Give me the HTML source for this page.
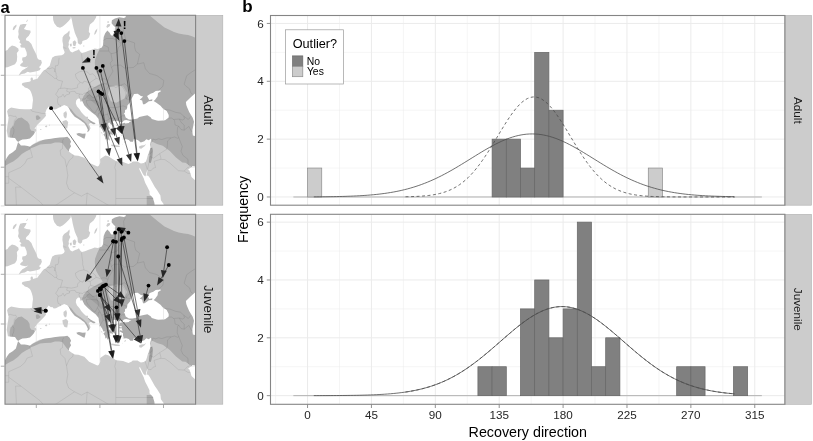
<!DOCTYPE html>
<html><head><meta charset="utf-8"><title>Figure</title>
<style>html,body{margin:0;padding:0;background:#fff}svg{display:block}</style></head>
<body><svg width="813" height="441" viewBox="0 0 813 441">
<rect width="813" height="441" fill="#fff"/>
<rect x="270.5" y="15.5" width="514.4" height="189.7" fill="#fff"/>
<line x1="270.5" x2="784.9" y1="168.05" y2="168.05" stroke="#ebebeb" stroke-width="0.5"/>
<line x1="270.5" x2="784.9" y1="110.21" y2="110.21" stroke="#ebebeb" stroke-width="0.5"/>
<line x1="270.5" x2="784.9" y1="52.37" y2="52.37" stroke="#ebebeb" stroke-width="0.5"/>
<line y1="15.5" y2="205.2" x1="275.61" x2="275.61" stroke="#ebebeb" stroke-width="0.5"/>
<line y1="15.5" y2="205.2" x1="339.49" x2="339.49" stroke="#ebebeb" stroke-width="0.5"/>
<line y1="15.5" y2="205.2" x1="403.38" x2="403.38" stroke="#ebebeb" stroke-width="0.5"/>
<line y1="15.5" y2="205.2" x1="467.27" x2="467.27" stroke="#ebebeb" stroke-width="0.5"/>
<line y1="15.5" y2="205.2" x1="531.15" x2="531.15" stroke="#ebebeb" stroke-width="0.5"/>
<line y1="15.5" y2="205.2" x1="595.04" x2="595.04" stroke="#ebebeb" stroke-width="0.5"/>
<line y1="15.5" y2="205.2" x1="658.93" x2="658.93" stroke="#ebebeb" stroke-width="0.5"/>
<line y1="15.5" y2="205.2" x1="722.81" x2="722.81" stroke="#ebebeb" stroke-width="0.5"/>
<line x1="270.5" x2="784.9" y1="196.97" y2="196.97" stroke="#ebebeb" stroke-width="1"/>
<line x1="270.5" x2="784.9" y1="139.13" y2="139.13" stroke="#ebebeb" stroke-width="1"/>
<line x1="270.5" x2="784.9" y1="81.29" y2="81.29" stroke="#ebebeb" stroke-width="1"/>
<line x1="270.5" x2="784.9" y1="23.45" y2="23.45" stroke="#ebebeb" stroke-width="1"/>
<line y1="15.5" y2="205.2" x1="307.55" x2="307.55" stroke="#ebebeb" stroke-width="1"/>
<line y1="15.5" y2="205.2" x1="371.44" x2="371.44" stroke="#ebebeb" stroke-width="1"/>
<line y1="15.5" y2="205.2" x1="435.32" x2="435.32" stroke="#ebebeb" stroke-width="1"/>
<line y1="15.5" y2="205.2" x1="499.21" x2="499.21" stroke="#ebebeb" stroke-width="1"/>
<line y1="15.5" y2="205.2" x1="563.10" x2="563.10" stroke="#ebebeb" stroke-width="1"/>
<line y1="15.5" y2="205.2" x1="626.98" x2="626.98" stroke="#ebebeb" stroke-width="1"/>
<line y1="15.5" y2="205.2" x1="690.87" x2="690.87" stroke="#ebebeb" stroke-width="1"/>
<line y1="15.5" y2="205.2" x1="754.76" x2="754.76" stroke="#ebebeb" stroke-width="1"/>
<line x1="293.35" x2="761.85" y1="196.97" y2="196.97" stroke="#b3b3b3" stroke-width="1"/>
<rect x="307.55" y="168.05" width="14.20" height="28.92" fill="#cccccc" stroke="#8c8c8c" stroke-width="0.7"/>
<rect x="492.11" y="139.13" width="14.20" height="57.84" fill="#808080" stroke="#666666" stroke-width="0.7"/>
<rect x="506.31" y="139.13" width="14.20" height="57.84" fill="#808080" stroke="#666666" stroke-width="0.7"/>
<rect x="520.50" y="168.05" width="14.20" height="28.92" fill="#808080" stroke="#666666" stroke-width="0.7"/>
<rect x="534.70" y="52.37" width="14.20" height="144.60" fill="#808080" stroke="#666666" stroke-width="0.7"/>
<rect x="548.90" y="110.21" width="14.20" height="86.76" fill="#808080" stroke="#666666" stroke-width="0.7"/>
<rect x="648.28" y="168.05" width="14.20" height="28.92" fill="#cccccc" stroke="#8c8c8c" stroke-width="0.7"/>
<polyline points="313.80,196.86 316.64,196.83 319.48,196.81 322.31,196.78 325.15,196.75 327.99,196.72 330.83,196.67 333.67,196.63 336.51,196.57 339.35,196.51 342.19,196.44 345.03,196.36 347.87,196.26 350.71,196.16 353.55,196.04 356.39,195.91 359.23,195.76 362.07,195.60 364.91,195.41 367.75,195.21 370.58,194.98 373.42,194.72 376.26,194.44 379.10,194.13 381.94,193.78 384.78,193.41 387.62,192.99 390.46,192.54 393.30,192.05 396.14,191.52 398.98,190.94 401.82,190.31 404.66,189.63 407.50,188.90 410.34,188.12 413.18,187.28 416.02,186.39 418.85,185.43 421.69,184.42 424.53,183.35 427.37,182.22 430.21,181.03 433.05,179.78 435.89,178.47 438.73,177.10 441.57,175.68 444.41,174.20 447.25,172.68 450.09,171.10 452.93,169.49 455.77,167.83 458.61,166.15 461.45,164.43 464.28,162.69 467.12,160.94 469.96,159.17 472.80,157.41 475.64,155.65 478.48,153.90 481.32,152.18 484.16,150.48 487.00,148.83 489.84,147.22 492.68,145.67 495.52,144.18 498.36,142.76 501.20,141.43 504.04,140.18 506.88,139.03 509.72,137.98 512.55,137.05 515.39,136.22 518.23,135.52 521.07,134.94 523.91,134.49 526.75,134.17 529.59,133.98 532.43,133.93 535.27,134.01 538.11,134.22 540.95,134.57 543.79,135.04 546.63,135.65 549.47,136.38 552.31,137.23 555.15,138.19 557.99,139.25 560.82,140.42 563.66,141.69 566.50,143.04 569.34,144.47 572.18,145.97 575.02,147.54 577.86,149.15 580.70,150.82 583.54,152.52 586.38,154.25 589.22,156.00 592.06,157.76 594.90,159.53 597.74,161.29 600.58,163.04 603.42,164.78 606.25,166.49 609.09,168.17 611.93,169.82 614.77,171.42 617.61,172.99 620.45,174.50 623.29,175.97 626.13,177.38 628.97,178.73 631.81,180.03 634.65,181.27 637.49,182.45 640.33,183.57 643.17,184.63 646.01,185.63 648.85,186.57 651.69,187.45 654.52,188.28 657.36,189.05 660.20,189.77 663.04,190.44 665.88,191.06 668.72,191.63 671.56,192.15 674.40,192.64 677.24,193.08 680.08,193.49 682.92,193.86 685.76,194.19 688.60,194.50 691.44,194.77 694.28,195.02 697.12,195.25 699.96,195.45 702.79,195.63 705.63,195.79 708.47,195.94 711.31,196.07 714.15,196.18 716.99,196.28 719.83,196.37 722.67,196.45 725.51,196.52 728.35,196.58 731.19,196.64 734.03,196.68" fill="none" stroke="#4d4d4d" stroke-width="0.8"/>
<polyline points="405.51,196.78 408.35,196.72 411.19,196.64 414.03,196.54 416.87,196.41 419.71,196.26 422.55,196.06 425.39,195.82 428.22,195.52 431.06,195.16 433.90,194.71 436.74,194.18 439.58,193.54 442.42,192.78 445.26,191.89 448.10,190.84 450.94,189.62 453.78,188.21 456.62,186.59 459.46,184.75 462.30,182.67 465.14,180.34 467.98,177.75 470.82,174.88 473.65,171.75 476.49,168.34 479.33,164.67 482.17,160.76 485.01,156.62 487.85,152.27 490.69,147.76 493.53,143.13 496.37,138.41 499.21,133.67 502.05,128.97 504.89,124.35 507.73,119.90 510.57,115.67 513.41,111.74 516.25,108.15 519.09,104.98 521.92,102.27 524.76,100.08 527.60,98.44 530.44,97.38 533.28,96.93 536.12,97.08 538.96,97.84 541.80,99.19 544.64,101.11 547.48,103.56 550.32,106.51 553.16,109.90 556.00,113.67 558.84,117.76 561.68,122.10 564.52,126.64 567.36,131.31 570.19,136.04 573.03,140.77 575.87,145.46 578.71,150.03 581.55,154.47 584.39,158.71 587.23,162.75 590.07,166.54 592.91,170.08 595.75,173.35 598.59,176.35 601.43,179.08 604.27,181.54 607.11,183.74 609.95,185.70 612.79,187.43 615.62,188.94 618.46,190.25 621.30,191.38 624.14,192.35 626.98,193.18 629.82,193.88 632.66,194.46 635.50,194.95 638.34,195.35 641.18,195.68 644.02,195.95 646.86,196.16 649.70,196.34 652.54,196.48 655.38,196.59 658.22,196.68 661.06,196.75 663.89,196.80 666.73,196.84 669.57,196.87 672.41,196.90 675.25,196.92 678.09,196.93 680.93,196.94 683.77,196.95 686.61,196.96 689.45,196.96 692.29,196.96 695.13,196.96 697.97,196.97 700.81,196.97 703.65,196.97 706.49,196.97 709.33,196.97 712.16,196.97 715.00,196.97 717.84,196.97 720.68,196.97 723.52,196.97 726.36,196.97 729.20,196.97 732.04,196.97 734.88,196.97" fill="none" stroke="#4d4d4d" stroke-width="0.8" stroke-dasharray="3 2.5"/>
<rect x="784.9" y="15.5" width="26.600000000000023" height="189.7" fill="#cccccc" stroke="#b0b0b0" stroke-width="0.6"/>
<rect x="270.5" y="15.5" width="514.4" height="189.7" fill="none" stroke="#858585" stroke-width="1.1"/>
<text transform="translate(794.00,110.35) rotate(90)" text-anchor="middle" font-family="Liberation Sans, Arial, Helvetica, sans-serif" font-size="11.7" fill="#1a1a1a">Adult</text>
<line x1="266.8" x2="270.5" y1="196.97" y2="196.97" stroke="#858585" stroke-width="0.9"/>
<text x="263.70" y="201.17" text-anchor="end" font-family="Liberation Sans, Arial, Helvetica, sans-serif" font-size="11.7" fill="#262626">0</text>
<line x1="266.8" x2="270.5" y1="139.13" y2="139.13" stroke="#858585" stroke-width="0.9"/>
<text x="263.70" y="143.33" text-anchor="end" font-family="Liberation Sans, Arial, Helvetica, sans-serif" font-size="11.7" fill="#262626">2</text>
<line x1="266.8" x2="270.5" y1="81.29" y2="81.29" stroke="#858585" stroke-width="0.9"/>
<text x="263.70" y="85.49" text-anchor="end" font-family="Liberation Sans, Arial, Helvetica, sans-serif" font-size="11.7" fill="#262626">4</text>
<line x1="266.8" x2="270.5" y1="23.45" y2="23.45" stroke="#858585" stroke-width="0.9"/>
<text x="263.70" y="27.65" text-anchor="end" font-family="Liberation Sans, Arial, Helvetica, sans-serif" font-size="11.7" fill="#262626">6</text>
<rect x="270.5" y="214.3" width="514.4" height="190.0" fill="#fff"/>
<line x1="270.5" x2="784.9" y1="366.73" y2="366.73" stroke="#ebebeb" stroke-width="0.5"/>
<line x1="270.5" x2="784.9" y1="308.89" y2="308.89" stroke="#ebebeb" stroke-width="0.5"/>
<line x1="270.5" x2="784.9" y1="251.05" y2="251.05" stroke="#ebebeb" stroke-width="0.5"/>
<line y1="214.3" y2="404.3" x1="275.61" x2="275.61" stroke="#ebebeb" stroke-width="0.5"/>
<line y1="214.3" y2="404.3" x1="339.49" x2="339.49" stroke="#ebebeb" stroke-width="0.5"/>
<line y1="214.3" y2="404.3" x1="403.38" x2="403.38" stroke="#ebebeb" stroke-width="0.5"/>
<line y1="214.3" y2="404.3" x1="467.27" x2="467.27" stroke="#ebebeb" stroke-width="0.5"/>
<line y1="214.3" y2="404.3" x1="531.15" x2="531.15" stroke="#ebebeb" stroke-width="0.5"/>
<line y1="214.3" y2="404.3" x1="595.04" x2="595.04" stroke="#ebebeb" stroke-width="0.5"/>
<line y1="214.3" y2="404.3" x1="658.93" x2="658.93" stroke="#ebebeb" stroke-width="0.5"/>
<line y1="214.3" y2="404.3" x1="722.81" x2="722.81" stroke="#ebebeb" stroke-width="0.5"/>
<line x1="270.5" x2="784.9" y1="395.65" y2="395.65" stroke="#ebebeb" stroke-width="1"/>
<line x1="270.5" x2="784.9" y1="337.81" y2="337.81" stroke="#ebebeb" stroke-width="1"/>
<line x1="270.5" x2="784.9" y1="279.97" y2="279.97" stroke="#ebebeb" stroke-width="1"/>
<line x1="270.5" x2="784.9" y1="222.13" y2="222.13" stroke="#ebebeb" stroke-width="1"/>
<line y1="214.3" y2="404.3" x1="307.55" x2="307.55" stroke="#ebebeb" stroke-width="1"/>
<line y1="214.3" y2="404.3" x1="371.44" x2="371.44" stroke="#ebebeb" stroke-width="1"/>
<line y1="214.3" y2="404.3" x1="435.32" x2="435.32" stroke="#ebebeb" stroke-width="1"/>
<line y1="214.3" y2="404.3" x1="499.21" x2="499.21" stroke="#ebebeb" stroke-width="1"/>
<line y1="214.3" y2="404.3" x1="563.10" x2="563.10" stroke="#ebebeb" stroke-width="1"/>
<line y1="214.3" y2="404.3" x1="626.98" x2="626.98" stroke="#ebebeb" stroke-width="1"/>
<line y1="214.3" y2="404.3" x1="690.87" x2="690.87" stroke="#ebebeb" stroke-width="1"/>
<line y1="214.3" y2="404.3" x1="754.76" x2="754.76" stroke="#ebebeb" stroke-width="1"/>
<line x1="293.35" x2="761.85" y1="395.65" y2="395.65" stroke="#b3b3b3" stroke-width="1"/>
<rect x="477.91" y="366.73" width="14.20" height="28.92" fill="#808080" stroke="#666666" stroke-width="0.7"/>
<rect x="492.11" y="366.73" width="14.20" height="28.92" fill="#808080" stroke="#666666" stroke-width="0.7"/>
<rect x="520.50" y="308.89" width="14.20" height="86.76" fill="#808080" stroke="#666666" stroke-width="0.7"/>
<rect x="534.70" y="279.97" width="14.20" height="115.68" fill="#808080" stroke="#666666" stroke-width="0.7"/>
<rect x="548.90" y="337.81" width="14.20" height="57.84" fill="#808080" stroke="#666666" stroke-width="0.7"/>
<rect x="563.10" y="308.89" width="14.20" height="86.76" fill="#808080" stroke="#666666" stroke-width="0.7"/>
<rect x="577.29" y="222.13" width="14.20" height="173.52" fill="#808080" stroke="#666666" stroke-width="0.7"/>
<rect x="591.49" y="366.73" width="14.20" height="28.92" fill="#808080" stroke="#666666" stroke-width="0.7"/>
<rect x="605.69" y="337.81" width="14.20" height="57.84" fill="#808080" stroke="#666666" stroke-width="0.7"/>
<rect x="676.67" y="366.73" width="14.20" height="28.92" fill="#808080" stroke="#666666" stroke-width="0.7"/>
<rect x="690.87" y="366.73" width="14.20" height="28.92" fill="#808080" stroke="#666666" stroke-width="0.7"/>
<rect x="733.46" y="366.73" width="14.20" height="28.92" fill="#808080" stroke="#666666" stroke-width="0.7"/>
<polyline points="313.80,395.62 316.64,395.62 319.48,395.61 322.31,395.60 325.15,395.59 327.99,395.58 330.83,395.57 333.67,395.55 336.51,395.54 339.35,395.52 342.19,395.49 345.03,395.46 347.87,395.43 350.71,395.39 353.55,395.35 356.39,395.30 359.23,395.24 362.07,395.18 364.91,395.10 367.75,395.02 370.58,394.92 373.42,394.81 376.26,394.68 379.10,394.54 381.94,394.38 384.78,394.20 387.62,393.99 390.46,393.77 393.30,393.51 396.14,393.23 398.98,392.91 401.82,392.56 404.66,392.18 407.50,391.75 410.34,391.28 413.18,390.76 416.02,390.19 418.85,389.57 421.69,388.90 424.53,388.16 427.37,387.36 430.21,386.50 433.05,385.57 435.89,384.56 438.73,383.48 441.57,382.33 444.41,381.10 447.25,379.78 450.09,378.38 452.93,376.90 455.77,375.34 458.61,373.69 461.45,371.96 464.28,370.15 467.12,368.25 469.96,366.28 472.80,364.23 475.64,362.11 478.48,359.92 481.32,357.67 484.16,355.37 487.00,353.01 489.84,350.61 492.68,348.18 495.52,345.71 498.36,343.24 501.20,340.75 504.04,338.28 506.88,335.81 509.72,333.37 512.55,330.97 515.39,328.62 518.23,326.33 521.07,324.11 523.91,321.97 526.75,319.94 529.59,318.01 532.43,316.20 535.27,314.52 538.11,312.98 540.95,311.59 543.79,310.35 546.63,309.28 549.47,308.38 552.31,307.66 555.15,307.12 557.99,306.76 560.82,306.59 563.66,306.61 566.50,306.82 569.34,307.21 572.18,307.79 575.02,308.55 577.86,309.48 580.70,310.58 583.54,311.85 586.38,313.27 589.22,314.84 592.06,316.55 594.90,318.39 597.74,320.34 600.58,322.39 603.42,324.54 606.25,326.78 609.09,329.08 611.93,331.45 614.77,333.86 617.61,336.30 620.45,338.77 623.29,341.25 626.13,343.73 628.97,346.21 631.81,348.66 634.65,351.09 637.49,353.48 640.33,355.83 643.17,358.13 646.01,360.37 648.85,362.54 651.69,364.65 654.52,366.68 657.36,368.64 660.20,370.52 663.04,372.32 665.88,374.03 668.72,375.66 671.56,377.21 674.40,378.67 677.24,380.05 680.08,381.35 682.92,382.57 685.76,383.71 688.60,384.77 691.44,385.76 694.28,386.68 697.12,387.53 699.96,388.31 702.79,389.04 705.63,389.70 708.47,390.31 711.31,390.87 714.15,391.37 716.99,391.84 719.83,392.26 722.67,392.64 725.51,392.98 728.35,393.29 731.19,393.56 734.03,393.81" fill="none" stroke="#4d4d4d" stroke-width="0.8"/>
<polyline points="405.51,392.05 408.35,391.61 411.19,391.13 414.03,390.59 416.87,390.01 419.71,389.38 422.55,388.68 425.39,387.93 428.22,387.11 431.06,386.23 433.90,385.27 436.74,384.25 439.58,383.15 442.42,381.97 445.26,380.71 448.10,379.37 450.94,377.95 453.78,376.44 456.62,374.86 459.46,373.18 462.30,371.43 465.14,369.59 467.98,367.67 470.82,365.67 473.65,363.60 476.49,361.46 479.33,359.25 482.17,356.99 485.01,354.66 487.85,352.29 490.69,349.88 493.53,347.44 496.37,344.97 499.21,342.49 502.05,340.01 504.89,337.53 507.73,335.08 510.57,332.65 513.41,330.26 516.25,327.92 519.09,325.65 521.92,323.46 524.76,321.35 527.60,319.35 530.44,317.45 533.28,315.68 536.12,314.04 538.96,312.54 541.80,311.20 544.64,310.01 547.48,308.99 550.32,308.15 553.16,307.48 556.00,306.99 558.84,306.69 561.68,306.58 564.52,306.65 567.36,306.92 570.19,307.36 573.03,308.00 575.87,308.81 578.71,309.79 581.55,310.95 584.39,312.26 587.23,313.73 590.07,315.34 592.91,317.09 595.75,318.96 598.59,320.94 601.43,323.03 604.27,325.21 607.11,327.46 609.95,329.79 612.79,332.16 615.62,334.59 618.46,337.04 621.30,339.51 624.14,342.00 626.98,344.48 629.82,346.95 632.66,349.40 635.50,351.81 638.34,354.19 641.18,356.53 644.02,358.81 646.86,361.03 649.70,363.18 652.54,365.27 655.38,367.28 658.22,369.21 661.06,371.07 663.89,372.84 666.73,374.53 669.57,376.13 672.41,377.66 675.25,379.09 678.09,380.45 680.93,381.72 683.77,382.92 686.61,384.03 689.45,385.07 692.29,386.04 695.13,386.94 697.97,387.77 700.81,388.54 703.65,389.24 706.49,389.89 709.33,390.48 712.16,391.02 715.00,391.52 717.84,391.97 720.68,392.37 723.52,392.74 726.36,393.07 729.20,393.37 732.04,393.64 734.88,393.88" fill="none" stroke="#4d4d4d" stroke-width="0.8" stroke-dasharray="3 2.5"/>
<rect x="784.9" y="214.3" width="26.600000000000023" height="190.0" fill="#cccccc" stroke="#b0b0b0" stroke-width="0.6"/>
<rect x="270.5" y="214.3" width="514.4" height="190.0" fill="none" stroke="#858585" stroke-width="1.1"/>
<text transform="translate(794.00,309.30) rotate(90)" text-anchor="middle" font-family="Liberation Sans, Arial, Helvetica, sans-serif" font-size="11.7" fill="#1a1a1a">Juvenile</text>
<line x1="266.8" x2="270.5" y1="395.65" y2="395.65" stroke="#858585" stroke-width="0.9"/>
<text x="263.70" y="399.85" text-anchor="end" font-family="Liberation Sans, Arial, Helvetica, sans-serif" font-size="11.7" fill="#262626">0</text>
<line x1="266.8" x2="270.5" y1="337.81" y2="337.81" stroke="#858585" stroke-width="0.9"/>
<text x="263.70" y="342.01" text-anchor="end" font-family="Liberation Sans, Arial, Helvetica, sans-serif" font-size="11.7" fill="#262626">2</text>
<line x1="266.8" x2="270.5" y1="279.97" y2="279.97" stroke="#858585" stroke-width="0.9"/>
<text x="263.70" y="284.17" text-anchor="end" font-family="Liberation Sans, Arial, Helvetica, sans-serif" font-size="11.7" fill="#262626">4</text>
<line x1="266.8" x2="270.5" y1="222.13" y2="222.13" stroke="#858585" stroke-width="0.9"/>
<text x="263.70" y="226.33" text-anchor="end" font-family="Liberation Sans, Arial, Helvetica, sans-serif" font-size="11.7" fill="#262626">6</text>
<line y1="404.3" y2="408.0" x1="307.55" x2="307.55" stroke="#858585" stroke-width="0.9"/>
<text x="307.55" y="419.3" text-anchor="middle" font-family="Liberation Sans, Arial, Helvetica, sans-serif" font-size="11.7" fill="#262626">0</text>
<line y1="404.3" y2="408.0" x1="371.44" x2="371.44" stroke="#858585" stroke-width="0.9"/>
<text x="371.44" y="419.3" text-anchor="middle" font-family="Liberation Sans, Arial, Helvetica, sans-serif" font-size="11.7" fill="#262626">45</text>
<line y1="404.3" y2="408.0" x1="435.32" x2="435.32" stroke="#858585" stroke-width="0.9"/>
<text x="435.32" y="419.3" text-anchor="middle" font-family="Liberation Sans, Arial, Helvetica, sans-serif" font-size="11.7" fill="#262626">90</text>
<line y1="404.3" y2="408.0" x1="499.21" x2="499.21" stroke="#858585" stroke-width="0.9"/>
<text x="499.21" y="419.3" text-anchor="middle" font-family="Liberation Sans, Arial, Helvetica, sans-serif" font-size="11.7" fill="#262626">135</text>
<line y1="404.3" y2="408.0" x1="563.10" x2="563.10" stroke="#858585" stroke-width="0.9"/>
<text x="563.10" y="419.3" text-anchor="middle" font-family="Liberation Sans, Arial, Helvetica, sans-serif" font-size="11.7" fill="#262626">180</text>
<line y1="404.3" y2="408.0" x1="626.98" x2="626.98" stroke="#858585" stroke-width="0.9"/>
<text x="626.98" y="419.3" text-anchor="middle" font-family="Liberation Sans, Arial, Helvetica, sans-serif" font-size="11.7" fill="#262626">225</text>
<line y1="404.3" y2="408.0" x1="690.87" x2="690.87" stroke="#858585" stroke-width="0.9"/>
<text x="690.87" y="419.3" text-anchor="middle" font-family="Liberation Sans, Arial, Helvetica, sans-serif" font-size="11.7" fill="#262626">270</text>
<line y1="404.3" y2="408.0" x1="754.76" x2="754.76" stroke="#858585" stroke-width="0.9"/>
<text x="754.76" y="419.3" text-anchor="middle" font-family="Liberation Sans, Arial, Helvetica, sans-serif" font-size="11.7" fill="#262626">315</text>
<text x="527.8" y="437" text-anchor="middle" font-family="Liberation Sans, Arial, Helvetica, sans-serif" font-size="14.3" fill="#000">Recovery direction</text>
<text transform="translate(247.8,209.4) rotate(-90)" text-anchor="middle" font-family="Liberation Sans, Arial, Helvetica, sans-serif" font-size="14.2" fill="#000">Frequency</text>
<rect x="285.4" y="29.8" width="58.2" height="54.2" fill="#fff" stroke="#9a9a9a" stroke-width="0.7"/>
<text x="292.7" y="47.6" font-family="Liberation Sans, Arial, Helvetica, sans-serif" font-size="12.7" fill="#000">Outlier?</text>
<rect x="292.6" y="55.9" width="10.2" height="10.4" fill="#808080" stroke="#666" stroke-width="0.7"/>
<rect x="292.6" y="66.3" width="10.2" height="10.4" fill="#cccccc" stroke="#8c8c8c" stroke-width="0.7"/>
<text x="306.7" y="64.8" font-family="Liberation Sans, Arial, Helvetica, sans-serif" font-size="10.4" fill="#000">No</text>
<text x="306.9" y="75.2" font-family="Liberation Sans, Arial, Helvetica, sans-serif" font-size="10.4" fill="#000">Yes</text>
<text x="0.5" y="12.5" font-family="Liberation Sans, Arial, Helvetica, sans-serif" font-size="16.6" font-weight="bold" fill="#000">a</text>
<text x="242.3" y="12.3" font-family="Liberation Sans, Arial, Helvetica, sans-serif" font-size="17" font-weight="bold" fill="#000">b</text>
<defs><clipPath id="mapclip"><rect x="5.0" y="15.3" width="190.6" height="189.89999999999998"/></clipPath><g id="basemap" clip-path="url(#mapclip)"><rect x="5.0" y="15.3" width="190.6" height="189.89999999999998" fill="#cccccc"/>
<path d="M104.0,14.0 L148.0,14.0 L151.5,17.0 L157.5,22.0 L164.5,27.5 L170.4,30.2 L174.0,31.9 L178.6,33.4 L184.0,34.5 L188.1,35.1 L192.0,36.3 L197.0,38.4 L197.0,166.0 L192.0,167.3 L185.4,162.8 L182.3,162.4 L176.0,157.4 L169.8,151.0 L162.7,145.8 L157.0,144.0 L151.3,141.2 L149.0,150.0 L125.0,152.0 L100.0,150.0 L96.0,135.0 L93.0,125.0 L84.0,110.0 L80.0,104.0 L82.0,100.0 L83.6,95.9 L86.3,92.5 L90.4,89.5 L97.2,85.6 L102.7,82.7 L99.3,77.2 L96.2,72.0 L95.2,68.0 L94.8,63.0 L95.0,60.0 L97.2,54.0 L99.4,49.5 L99.0,44.0 L94.0,30.0Z" fill="#ababab"/>
<path d="M9.7,137.5 L9.7,133.0 L10.5,128.4 L13.8,125.4 L15.0,120.9 L18.0,118.3 L21.7,117.6 L24.7,119.8 L27.7,121.7 L29.5,124.7 L29.9,128.4 L31.4,130.7 L33.7,131.0 L35.0,133.0 L33.0,137.0 L30.0,139.5 L18.0,143.0 L12.0,139.0Z" fill="#ababab"/>
<path d="M35.9,115.7 L38.1,115.3 L40.8,118.0 L38.9,119.4 L36.6,120.2 L35.9,118.0Z" fill="#ababab"/>
<path d="M4.0,166.0 L4.0,158.0 L18.0,141.0 L30.0,146.0 L45.0,139.0 L60.0,137.0 L68.0,136.0 L72.0,140.0 L72.0,147.0 L70.0,152.0 L68.1,150.7 L66.2,148.4 L64.0,145.4 L62.5,143.2 L59.5,142.4 L55.0,142.4 L50.9,143.7 L44.9,144.1 L40.0,144.5 L36.0,146.2 L33.0,147.4 L30.8,148.3 L29.9,149.5 L26.3,151.3 L21.8,154.0 L18.1,157.7 L13.6,161.3 L9.1,163.6 L5.0,166.0Z" fill="#ababab"/>
<path d="M146.7,196.1 L154.9,196.1 L154.9,206.0 L146.7,206.0Z" fill="#ababab"/>
<path d="M68.5,107.0 L71.5,109.5 L74.0,113.0 L77.0,116.0 L80.5,118.3 L83.5,120.5 L86.5,123.5 L88.5,127.0 L89.5,130.0 L87.0,133.0 L86.0,128.0 L84.0,124.0 L80.0,121.5 L76.5,119.0 L73.5,116.5 L70.5,112.5 L68.5,109.0Z" fill="#ababab"/>
<path d="M88.0,116.0 L91.0,119.0 L94.5,122.0 L96.0,124.5 L93.0,125.0 L90.5,122.5 L88.0,119.5Z" fill="#ababab"/>
<path d="M109.5,87.0 L116.0,85.6 L123.0,86.3 L127.1,93.1 L124.4,98.6 L116.3,102.7 L110.8,101.3 L108.1,94.5Z" fill="#c8c8c8"/>
<path d="M86.5,95.5 L90.0,94.5 L96.0,99.0 L101.0,104.0 L104.0,109.0 L101.0,110.0 L97.0,105.5 L91.0,100.5 L87.0,98.5Z" fill="#9e9e9e"/>
<path d="M149.3,148.5 L152.3,147.5 L152.8,152.0 L152.2,158.0 L150.8,163.0 L149.0,162.5 L149.6,155.0Z" fill="#9e9e9e"/>
<path d="M5.0,15.3 L52.9,15.3 L53.2,20.0 L54.3,23.3 L57.0,26.7 L60.0,27.8 L63.0,26.3 L65.9,23.7 L68.9,20.7 L70.6,18.5 L70.8,16.2 L71.9,20.0 L72.7,24.5 L73.8,29.0 L74.9,33.1 L76.4,36.4 L77.5,38.7 L77.9,43.2 L80.2,44.7 L82.0,43.5 L82.4,40.9 L86.9,39.4 L89.1,37.2 L90.2,33.4 L88.8,32.0 L89.1,27.5 L89.9,24.5 L93.6,21.5 L95.9,17.7 L96.6,15.3 L126.1,15.3 L125.5,17.2 L123.9,18.0 L119.4,17.2 L114.9,18.4 L111.9,20.2 L111.6,23.2 L113.4,25.5 L115.3,27.3 L115.2,30.5 L113.6,33.5 L112.6,35.8 L111.0,35.2 L109.6,32.8 L107.4,30.6 L105.2,33.2 L103.7,37.0 L103.3,41.5 L103.0,45.2 L101.8,47.4 L100.0,48.2 L97.7,48.9 L94.7,48.6 L91.7,49.7 L88.6,50.7 L84.9,52.2 L81.9,53.0 L80.4,51.8 L78.9,49.2 L77.4,50.3 L75.2,51.1 L72.2,52.6 L70.2,51.2 L68.2,47.0 L68.9,44.7 L68.6,42.4 L69.3,40.2 L70.4,37.9 L69.1,35.7 L69.7,32.0 L69.3,30.5 L67.4,32.7 L64.1,34.9 L62.6,37.2 L62.4,40.9 L63.0,43.9 L63.2,45.5 L62.8,47.0 L63.2,48.5 L64.7,52.2 L63.9,54.1 L61.7,55.2 L58.7,55.6 L55.0,56.0 L52.3,57.4 L51.2,60.4 L49.7,65.7 L48.0,67.3 L45.6,69.4 L43.6,70.6 L41.9,72.4 L41.1,73.7 L38.9,76.5 L37.4,78.7 L34.5,79.6 L33.0,80.0 L32.7,77.7 L31.2,77.5 L30.5,78.7 L30.8,81.0 L29.3,81.8 L26.0,82.2 L22.4,83.1 L21.8,84.9 L23.4,86.0 L24.9,87.4 L27.5,88.2 L29.9,89.9 L31.0,92.0 L31.8,94.3 L32.6,97.0 L33.0,99.9 L32.5,103.7 L32.2,107.5 L31.8,109.0 L29.9,109.3 L24.7,109.3 L19.4,109.0 L15.0,108.2 L11.2,107.5 L8.2,109.3 L7.1,111.2 L7.9,115.0 L8.6,117.2 L8.2,120.9 L7.5,124.7 L7.1,128.4 L6.7,130.7 L7.1,132.5 L7.9,137.3 L11.2,137.7 L15.0,138.1 L16.8,140.7 L18.0,141.8 L18.0,142.6 L17.2,145.0 L15.9,149.5 L12.7,152.2 L9.1,154.5 L6.8,157.7 L5.4,160.4 L5.0,161.0Z M18.3,141.8 L19.8,140.7 L22.4,139.6 L26.2,139.2 L29.9,138.5 L32.2,136.2 L33.7,134.4 L35.2,132.1 L36.6,130.6 L35.9,128.7 L34.4,128.4 L35.9,126.9 L37.4,124.7 L40.4,121.7 L44.1,117.9 L46.0,115.7 L45.3,113.1 L46.4,109.7 L48.6,106.4 L50.9,108.2 L52.4,107.9 L53.7,109.6 L56.0,109.2 L58.2,108.1 L61.2,106.6 L64.2,105.1 L67.2,106.2 L69.1,108.5 L70.2,111.1 L72.4,114.1 L74.7,116.7 L77.7,118.6 L80.7,120.4 L82.9,122.3 L84.2,123.0 L86.4,126.4 L87.9,129.7 L87.2,132.3 L89.0,131.2 L90.5,128.2 L89.8,126.0 L88.7,124.1 L90.9,123.0 L93.9,124.5 L95.4,123.7 L95.2,123.0 L93.4,122.3 L90.4,120.4 L87.8,118.6 L88.1,116.7 L85.9,116.7 L83.7,114.8 L81.4,112.2 L79.5,109.2 L76.9,106.2 L75.8,103.2 L76.2,100.6 L78.0,98.4 L79.9,98.7 L80.3,101.7 L82.2,101.0 L84.4,105.5 L88.1,109.2 L91.9,112.6 L95.6,115.2 L98.6,118.9 L99.0,122.7 L99.7,126.4 L99.9,126.6 L100.5,127.3 L102.3,129.7 L103.4,132.4 L105.5,132.6 L103.4,134.4 L105.1,137.0 L105.3,139.2 L106.1,139.4 L106.6,138.3 L107.7,140.9 L108.2,139.3 L109.9,140.7 L109.1,137.0 L108.6,135.9 L110.4,137.0 L109.4,134.4 L111.3,134.2 L112.8,135.5 L112.6,133.3 L111.0,131.7 L108.5,129.9 L109.3,128.2 L110.4,129.1 L109.1,126.8 L108.2,125.0 L108.2,123.6 L109.1,122.3 L110.4,124.1 L111.7,125.3 L111.8,123.9 L112.6,125.2 L112.5,123.6 L113.9,124.3 L112.0,122.0 L113.9,120.7 L118.7,121.1 L119.3,122.0 L121.5,122.3 L119.6,124.8 L119.6,125.0 L119.2,127.3 L122.0,127.0 L121.2,128.2 L122.0,130.6 L122.5,131.9 L120.3,131.1 L119.9,132.6 L123.0,134.2 L123.0,136.8 L123.6,138.3 L123.4,139.6 L126.3,139.2 L128.8,140.1 L130.4,141.8 L133.0,141.8 L133.9,138.8 L138.1,140.3 L140.8,142.4 L144.3,141.3 L146.3,139.2 L148.7,140.3 L150.8,138.8 L151.3,140.1 L150.6,142.4 L150.0,144.8 L150.4,147.3 L150.1,149.2 L149.2,151.5 L148.2,154.2 L147.6,156.0 L146.8,159.1 L145.9,161.4 L143.8,162.9 L140.9,163.5 L139.0,162.4 L137.6,161.4 L132.8,161.6 L131.4,162.7 L128.4,164.1 L123.0,162.1 L116.3,161.2 L112.5,159.1 L108.3,156.2 L105.3,155.6 L100.1,159.0 L100.2,162.7 L98.6,165.9 L97.4,166.4 L89.1,162.7 L84.3,157.8 L78.3,155.7 L74.8,155.6 L73.0,154.6 L70.7,153.0 L68.8,151.4 L69.2,149.2 L71.1,146.2 L70.0,143.9 L71.1,141.7 L69.6,138.7 L67.3,136.8 L64.7,137.2 L59.5,137.6 L55.3,138.1 L50.9,138.8 L44.9,139.6 L39.6,140.7 L35.9,142.6 L32.2,144.8 L29.9,146.7 L27.7,146.0 L24.7,145.6 L20.9,145.6 L19.8,144.1 L18.3,142.6Z M128.9,119.4 L130.4,119.6 L132.5,119.5 L137.4,118.4 L139.3,117.0 L143.7,115.9 L147.4,115.3 L150.6,117.2 L151.8,119.0 L156.8,120.4 L158.4,120.8 L162.6,120.4 L165.1,120.3 L168.7,117.4 L168.7,115.1 L166.7,111.1 L162.6,108.3 L160.5,105.8 L156.4,102.8 L153.6,100.9 L154.9,99.9 L157.6,96.2 L158.0,92.9 L161.3,90.9 L160.0,90.4 L155.7,90.9 L153.3,92.7 L150.5,93.7 L147.1,96.0 L149.2,99.9 L152.4,99.2 L152.1,100.9 L148.8,101.3 L147.5,102.2 L145.0,103.9 L143.6,104.4 L142.8,103.4 L142.2,100.4 L139.7,99.7 L141.9,97.7 L143.1,96.5 L140.9,96.0 L137.7,93.7 L134.0,94.1 L133.1,96.0 L130.7,99.9 L130.4,101.9 L127.4,105.5 L127.2,107.3 L126.8,109.3 L125.1,110.1 L125.0,112.5 L123.7,113.4 L124.4,113.8 L125.3,116.4 L125.7,117.5Z M128.5,120.4 L131.4,121.6 L129.4,122.0 L129.0,123.0 L125.2,123.4 L124.7,122.7 L123.1,123.2 L121.2,123.4 L120.1,124.3 L120.4,124.1 L121.2,123.0 L122.5,122.3 L123.8,120.5 L126.1,120.1Z M197.0,92.0 L194.7,93.8 L190.0,98.0 L185.9,102.0 L186.3,105.0 L187.2,107.4 L189.3,112.2 L191.0,115.0 L192.7,117.7 L194.0,121.7 L193.3,125.8 L192.4,129.9 L192.5,133.0 L192.9,135.5 L197.0,136.5Z M196.3,166.7 L192.4,165.9 L191.8,167.3 L190.5,167.7 L188.9,169.1 L188.0,170.1 L189.3,170.3 L190.5,173.5 L191.5,177.0 L194.2,179.4 L196.3,180.9Z M154.9,207.7 L154.4,202.9 L152.8,197.7 L149.5,194.3 L149.5,191.3 L147.3,186.8 L145.3,182.9 L144.3,180.3 L143.8,178.4 L141.6,174.1 L139.2,169.1 L139.8,167.7 L141.6,171.3 L143.2,174.5 L145.2,176.5 L145.7,175.8 L146.2,173.5 L147.4,169.5 L147.5,170.4 L146.9,173.9 L146.3,175.4 L148.2,175.8 L149.8,178.0 L152.3,182.4 L154.8,187.0 L157.3,190.6 L160.4,195.5 L160.9,200.3 L164.4,205.3 L166.0,207.7Z" fill="#fff"/>
<clipPath id="seaclip"><path d="M5.0,15.3 L52.9,15.3 L53.2,20.0 L54.3,23.3 L57.0,26.7 L60.0,27.8 L63.0,26.3 L65.9,23.7 L68.9,20.7 L70.6,18.5 L70.8,16.2 L71.9,20.0 L72.7,24.5 L73.8,29.0 L74.9,33.1 L76.4,36.4 L77.5,38.7 L77.9,43.2 L80.2,44.7 L82.0,43.5 L82.4,40.9 L86.9,39.4 L89.1,37.2 L90.2,33.4 L88.8,32.0 L89.1,27.5 L89.9,24.5 L93.6,21.5 L95.9,17.7 L96.6,15.3 L126.1,15.3 L125.5,17.2 L123.9,18.0 L119.4,17.2 L114.9,18.4 L111.9,20.2 L111.6,23.2 L113.4,25.5 L115.3,27.3 L115.2,30.5 L113.6,33.5 L112.6,35.8 L111.0,35.2 L109.6,32.8 L107.4,30.6 L105.2,33.2 L103.7,37.0 L103.3,41.5 L103.0,45.2 L101.8,47.4 L100.0,48.2 L97.7,48.9 L94.7,48.6 L91.7,49.7 L88.6,50.7 L84.9,52.2 L81.9,53.0 L80.4,51.8 L78.9,49.2 L77.4,50.3 L75.2,51.1 L72.2,52.6 L70.2,51.2 L68.2,47.0 L68.9,44.7 L68.6,42.4 L69.3,40.2 L70.4,37.9 L69.1,35.7 L69.7,32.0 L69.3,30.5 L67.4,32.7 L64.1,34.9 L62.6,37.2 L62.4,40.9 L63.0,43.9 L63.2,45.5 L62.8,47.0 L63.2,48.5 L64.7,52.2 L63.9,54.1 L61.7,55.2 L58.7,55.6 L55.0,56.0 L52.3,57.4 L51.2,60.4 L49.7,65.7 L48.0,67.3 L45.6,69.4 L43.6,70.6 L41.9,72.4 L41.1,73.7 L38.9,76.5 L37.4,78.7 L34.5,79.6 L33.0,80.0 L32.7,77.7 L31.2,77.5 L30.5,78.7 L30.8,81.0 L29.3,81.8 L26.0,82.2 L22.4,83.1 L21.8,84.9 L23.4,86.0 L24.9,87.4 L27.5,88.2 L29.9,89.9 L31.0,92.0 L31.8,94.3 L32.6,97.0 L33.0,99.9 L32.5,103.7 L32.2,107.5 L31.8,109.0 L29.9,109.3 L24.7,109.3 L19.4,109.0 L15.0,108.2 L11.2,107.5 L8.2,109.3 L7.1,111.2 L7.9,115.0 L8.6,117.2 L8.2,120.9 L7.5,124.7 L7.1,128.4 L6.7,130.7 L7.1,132.5 L7.9,137.3 L11.2,137.7 L15.0,138.1 L16.8,140.7 L18.0,141.8 L18.0,142.6 L17.2,145.0 L15.9,149.5 L12.7,152.2 L9.1,154.5 L6.8,157.7 L5.4,160.4 L5.0,161.0Z M18.3,141.8 L19.8,140.7 L22.4,139.6 L26.2,139.2 L29.9,138.5 L32.2,136.2 L33.7,134.4 L35.2,132.1 L36.6,130.6 L35.9,128.7 L34.4,128.4 L35.9,126.9 L37.4,124.7 L40.4,121.7 L44.1,117.9 L46.0,115.7 L45.3,113.1 L46.4,109.7 L48.6,106.4 L50.9,108.2 L52.4,107.9 L53.7,109.6 L56.0,109.2 L58.2,108.1 L61.2,106.6 L64.2,105.1 L67.2,106.2 L69.1,108.5 L70.2,111.1 L72.4,114.1 L74.7,116.7 L77.7,118.6 L80.7,120.4 L82.9,122.3 L84.2,123.0 L86.4,126.4 L87.9,129.7 L87.2,132.3 L89.0,131.2 L90.5,128.2 L89.8,126.0 L88.7,124.1 L90.9,123.0 L93.9,124.5 L95.4,123.7 L95.2,123.0 L93.4,122.3 L90.4,120.4 L87.8,118.6 L88.1,116.7 L85.9,116.7 L83.7,114.8 L81.4,112.2 L79.5,109.2 L76.9,106.2 L75.8,103.2 L76.2,100.6 L78.0,98.4 L79.9,98.7 L80.3,101.7 L82.2,101.0 L84.4,105.5 L88.1,109.2 L91.9,112.6 L95.6,115.2 L98.6,118.9 L99.0,122.7 L99.7,126.4 L99.9,126.6 L100.5,127.3 L102.3,129.7 L103.4,132.4 L105.5,132.6 L103.4,134.4 L105.1,137.0 L105.3,139.2 L106.1,139.4 L106.6,138.3 L107.7,140.9 L108.2,139.3 L109.9,140.7 L109.1,137.0 L108.6,135.9 L110.4,137.0 L109.4,134.4 L111.3,134.2 L112.8,135.5 L112.6,133.3 L111.0,131.7 L108.5,129.9 L109.3,128.2 L110.4,129.1 L109.1,126.8 L108.2,125.0 L108.2,123.6 L109.1,122.3 L110.4,124.1 L111.7,125.3 L111.8,123.9 L112.6,125.2 L112.5,123.6 L113.9,124.3 L112.0,122.0 L113.9,120.7 L118.7,121.1 L119.3,122.0 L121.5,122.3 L119.6,124.8 L119.6,125.0 L119.2,127.3 L122.0,127.0 L121.2,128.2 L122.0,130.6 L122.5,131.9 L120.3,131.1 L119.9,132.6 L123.0,134.2 L123.0,136.8 L123.6,138.3 L123.4,139.6 L126.3,139.2 L128.8,140.1 L130.4,141.8 L133.0,141.8 L133.9,138.8 L138.1,140.3 L140.8,142.4 L144.3,141.3 L146.3,139.2 L148.7,140.3 L150.8,138.8 L151.3,140.1 L150.6,142.4 L150.0,144.8 L150.4,147.3 L150.1,149.2 L149.2,151.5 L148.2,154.2 L147.6,156.0 L146.8,159.1 L145.9,161.4 L143.8,162.9 L140.9,163.5 L139.0,162.4 L137.6,161.4 L132.8,161.6 L131.4,162.7 L128.4,164.1 L123.0,162.1 L116.3,161.2 L112.5,159.1 L108.3,156.2 L105.3,155.6 L100.1,159.0 L100.2,162.7 L98.6,165.9 L97.4,166.4 L89.1,162.7 L84.3,157.8 L78.3,155.7 L74.8,155.6 L73.0,154.6 L70.7,153.0 L68.8,151.4 L69.2,149.2 L71.1,146.2 L70.0,143.9 L71.1,141.7 L69.6,138.7 L67.3,136.8 L64.7,137.2 L59.5,137.6 L55.3,138.1 L50.9,138.8 L44.9,139.6 L39.6,140.7 L35.9,142.6 L32.2,144.8 L29.9,146.7 L27.7,146.0 L24.7,145.6 L20.9,145.6 L19.8,144.1 L18.3,142.6Z M128.9,119.4 L130.4,119.6 L132.5,119.5 L137.4,118.4 L139.3,117.0 L143.7,115.9 L147.4,115.3 L150.6,117.2 L151.8,119.0 L156.8,120.4 L158.4,120.8 L162.6,120.4 L165.1,120.3 L168.7,117.4 L168.7,115.1 L166.7,111.1 L162.6,108.3 L160.5,105.8 L156.4,102.8 L153.6,100.9 L154.9,99.9 L157.6,96.2 L158.0,92.9 L161.3,90.9 L160.0,90.4 L155.7,90.9 L153.3,92.7 L150.5,93.7 L147.1,96.0 L149.2,99.9 L152.4,99.2 L152.1,100.9 L148.8,101.3 L147.5,102.2 L145.0,103.9 L143.6,104.4 L142.8,103.4 L142.2,100.4 L139.7,99.7 L141.9,97.7 L143.1,96.5 L140.9,96.0 L137.7,93.7 L134.0,94.1 L133.1,96.0 L130.7,99.9 L130.4,101.9 L127.4,105.5 L127.2,107.3 L126.8,109.3 L125.1,110.1 L125.0,112.5 L123.7,113.4 L124.4,113.8 L125.3,116.4 L125.7,117.5Z M128.5,120.4 L131.4,121.6 L129.4,122.0 L129.0,123.0 L125.2,123.4 L124.7,122.7 L123.1,123.2 L121.2,123.4 L120.1,124.3 L120.4,124.1 L121.2,123.0 L122.5,122.3 L123.8,120.5 L126.1,120.1Z M197.0,92.0 L194.7,93.8 L190.0,98.0 L185.9,102.0 L186.3,105.0 L187.2,107.4 L189.3,112.2 L191.0,115.0 L192.7,117.7 L194.0,121.7 L193.3,125.8 L192.4,129.9 L192.5,133.0 L192.9,135.5 L197.0,136.5Z M196.3,166.7 L192.4,165.9 L191.8,167.3 L190.5,167.7 L188.9,169.1 L188.0,170.1 L189.3,170.3 L190.5,173.5 L191.5,177.0 L194.2,179.4 L196.3,180.9Z M154.9,207.7 L154.4,202.9 L152.8,197.7 L149.5,194.3 L149.5,191.3 L147.3,186.8 L145.3,182.9 L144.3,180.3 L143.8,178.4 L141.6,174.1 L139.2,169.1 L139.8,167.7 L141.6,171.3 L143.2,174.5 L145.2,176.5 L145.7,175.8 L146.2,173.5 L147.4,169.5 L147.5,170.4 L146.9,173.9 L146.3,175.4 L148.2,175.8 L149.8,178.0 L152.3,182.4 L154.8,187.0 L157.3,190.6 L160.4,195.5 L160.9,200.3 L164.4,205.3 L166.0,207.7Z"/></clipPath>
<g clip-path="url(#seaclip)" stroke="#e4e4e4" stroke-width="0.7"><line x1="36.3" x2="36.3" y1="15.3" y2="205.2"/><line x1="99.9" x2="99.9" y1="15.3" y2="205.2"/><line x1="163.5" x2="163.5" y1="15.3" y2="205.2"/><line y1="75.3" y2="75.3" x1="5.0" x2="195.6"/><line y1="125" y2="125" x1="5.0" x2="195.6"/><line y1="167.2" y2="167.2" x1="5.0" x2="195.6"/></g>
<path d="M20.2,24.8 L23.2,24.1 L26.6,24.1 L25.8,26.0 L23.9,29.0 L26.6,30.1 L30.3,30.5 L30.7,32.3 L28.8,35.7 L26.2,38.3 L25.8,40.2 L28.8,41.3 L30.7,43.2 L31.4,44.0 L32.9,47.7 L35.2,52.2 L36.6,55.2 L37.4,58.2 L38.9,59.7 L41.1,60.1 L41.9,62.7 L40.8,65.3 L38.9,67.2 L40.8,68.3 L39.6,70.2 L36.6,71.3 L32.9,72.0 L29.9,72.4 L27.7,71.7 L24.7,73.5 L21.7,73.9 L18.7,75.4 L20.2,72.8 L22.4,70.2 L24.7,69.1 L28.4,66.4 L25.4,67.2 L21.7,66.4 L19.8,65.3 L21.3,63.4 L23.2,62.0 L22.1,60.1 L22.4,57.5 L25.4,57.1 L26.9,55.2 L26.6,52.2 L25.4,49.2 L24.7,47.7 L20.9,47.4 L20.2,45.5 L21.7,44.0 L21.3,43.9 L19.4,42.4 L20.2,40.6 L19.1,39.4 L18.0,37.2 L18.7,34.2 L18.3,31.2 L19.1,27.5Z M5.0,51.1 L7.5,50.0 L9.0,47.7 L12.0,45.5 L15.0,46.2 L18.3,48.5 L18.7,50.7 L16.8,53.0 L17.2,56.7 L16.8,61.2 L15.0,64.2 L11.2,65.7 L7.5,67.2 L5.0,67.6Z M63.5,113.0 L66.1,110.9 L67.0,113.7 L66.5,117.4 L65.0,118.4 L63.5,115.9Z M62.4,121.2 L66.1,120.0 L68.2,121.9 L67.9,124.5 L67.2,128.4 L64.5,128.1 L62.8,124.5Z M111.3,144.4 L113.3,144.8 L115.8,145.2 L118.2,145.6 L119.9,146.1 L119.6,146.9 L115.8,147.1 L111.3,146.1Z M139.0,146.5 L141.2,145.4 L144.1,145.2 L146.3,143.9 L144.3,146.5 L143.5,147.1 L141.2,148.7 L139.3,148.2Z M72.7,41.7 L74.9,40.2 L76.4,42.4 L75.3,46.2 L73.0,45.4Z M69.7,43.9 L71.6,43.6 L71.8,46.2 L70.2,46.5Z M72.5,47.2 L75.5,47.0 L75.3,48.2 L72.8,48.4Z M94.0,34.7 L95.1,31.0 L97.3,28.4 L97.0,31.0 L95.5,34.0Z M106.3,26.6 L107.8,24.0 L110.4,24.3 L109.7,26.2 L107.1,28.1Z M107.2,21.6 L108.8,21.2 L109.0,22.6 L107.6,22.9Z M44.8,126.4 L46.4,125.2 L47.4,126.3 L46.2,127.4Z M48.9,124.7 L50.0,124.7 L50.0,125.4 L48.9,125.4Z M40.3,129.1 L41.3,128.9 L41.3,130.0 L40.3,130.0Z M126.0,140.7 L125.7,142.2 L124.5,143.1 L124.4,141.8Z M119.0,131.3 L119.5,132.2 L119.0,133.1 L118.5,131.7Z M120.9,134.8 L122.3,135.0 L121.8,135.5 L120.9,135.3Z M101.6,131.9 L102.4,133.1 L102.3,133.7 L101.0,133.1Z M98.9,125.9 L99.7,126.1 L100.2,127.7 L99.4,127.5Z M102.1,134.4 L102.9,135.0 L102.6,135.5Z M12.6,29.6 L13.6,26.8 L16.3,24.6 L16.6,26.0 L15.2,28.2 L13.8,30.2Z M25.8,21.9 L27.2,20.0 L28.0,19.6 L27.2,21.5Z M83.3,45.5 L84.3,45.5 L84.3,46.4 L83.3,46.4Z M116.1,125.0 L117.1,125.2 L116.8,125.9 L116.0,125.7Z M117.1,137.4 L117.7,137.9 L117.2,138.5 L116.9,138.1Z M114.8,134.2 L115.6,135.0 L115.3,135.3Z M122.2,138.8 L123.1,139.0 L122.5,139.4Z M122.8,143.3 L122.6,145.0 L122.3,145.0Z" fill="#cccccc"/>
<path d="M76.3,133.8 L78.9,133.1 L82.7,133.8 L85.7,133.5 L85.3,136.1 L84.5,138.7 L83.0,138.3 L80.4,136.8 L77.4,135.3Z M109.8,129.5 L110.9,130.2 L113.1,131.1 L114.5,133.3 L114.2,134.2 L112.9,132.4 L111.5,132.2 L110.4,130.6Z M119.6,127.9 L120.9,128.2 L120.7,129.5 L118.7,129.1Z" fill="#ababab"/>
<path d="M8.2,116.3 L10.2,115.3 L14.0,116.5 L15.5,116.0 L16.6,117.9 L14.4,120.4 L14.0,124.1 L12.4,126.6 L14.0,129.5 L13.7,133.1 L12.4,135.9 L12.8,137.4 M30.6,109.4 L31.8,111.1 L35.3,112.0 L38.5,112.5 L41.7,113.4 L46.3,113.7 M60.2,107.4 L60.6,105.6 L58.2,104.4 L57.4,100.9 L58.1,97.2 L55.7,94.2 L57.6,91.4 L58.6,88.9 L60.5,88.4 L62.5,81.2 L57.6,80.0 L56.5,78.4 L54.7,78.4 L51.6,75.7 L49.3,74.1 L46.2,71.6 L44.4,69.8 M47.0,68.2 L49.8,68.8 L52.2,67.7 L54.7,68.8 L54.4,71.6 L55.4,71.6 L56.3,74.1 L55.9,74.9 L57.0,76.8 L56.5,78.4 M55.4,71.6 L55.4,65.8 L57.8,65.5 L58.7,63.2 L58.6,61.0 L59.2,57.8 M63.8,47.7 L66.4,48.3 M81.5,53.6 L82.1,58.9 L82.7,62.7 L82.7,65.5 L84.0,70.2 L83.4,70.9 L79.2,71.9 L75.4,74.1 L75.9,76.8 L77.2,79.4 L80.3,82.3 L79.1,83.2 L77.6,85.0 L77.6,87.6 L75.1,88.4 L71.3,89.1 L67.3,88.6 L64.6,88.1 L60.5,88.4 M67.3,88.6 L66.7,91.2 L69.5,92.2 L69.5,94.0 L65.9,95.0 L64.6,97.2 L63.0,94.2 L61.3,96.7 L58.1,97.2 M69.5,92.2 L71.9,91.4 L75.1,91.4 L75.9,93.2 L79.9,94.0 L78.9,95.5 L79.5,97.5 L80.2,98.5 M79.9,94.0 L82.7,94.5 L84.0,93.2 L87.2,92.9 L87.5,92.1 M80.3,82.3 L83.0,83.2 L84.0,81.0 L87.2,82.1 L90.2,82.5 L90.7,86.3 L88.8,87.8 L88.5,91.4 L87.5,92.1 L89.1,94.5 L92.6,97.5 L96.2,97.0 L96.4,96.0 L100.9,95.7 L103.7,93.5 L105.9,89.9 L109.1,85.8 L106.7,84.2 L108.0,80.5 M83.4,70.9 L85.3,71.3 L87.8,72.2 L89.7,74.6 L92.6,73.8 L95.3,76.2 L96.2,78.4 L98.3,78.9 L100.2,80.0 L102.1,78.9 L105.0,78.9 L108.0,80.5 L108.5,78.4 L111.7,73.5 L112.9,71.1 L111.5,67.5 L110.1,63.0 L112.3,60.7 L111.0,53.7 L108.8,51.0 L99.3,51.0 M96.2,78.4 L91.0,81.8 L90.2,82.5 M90.7,86.3 L94.5,87.6 L96.1,87.3 L98.6,85.8 L101.5,84.7 L104.7,83.7 L106.7,84.2 M108.8,51.0 L108.2,47.1 L104.0,45.3 M103.2,40.6 L106.3,38.5 L112.6,38.5 L116.4,40.1 L120.9,43.0 L125.8,39.9 M111.0,53.7 L114.2,53.1 L117.4,51.9 L118.3,47.7 L120.9,45.3 L120.9,43.0 M113.7,29.1 L116.8,28.9 L120.6,31.2 L123.3,31.4 L124.1,28.2 L123.6,22.3 L125.5,18.4 M123.3,31.4 L124.4,34.7 L125.8,39.9 L134.6,42.9 L134.6,47.1 L135.8,51.3 L139.7,54.3 L138.7,58.4 L137.4,64.1 L143.8,62.7 L145.4,68.8 L149.5,73.5 L155.6,75.2 L157.8,76.2 L163.8,80.5 L162.9,86.3 L157.8,90.9 M111.5,67.5 L114.2,65.2 L120.6,65.2 L124.4,68.0 L133.3,67.5 L137.4,64.1 M109.1,85.8 L114.2,86.5 L115.8,87.6 L120.9,85.0 L123.8,88.9 L125.7,92.4 L126.0,99.0 L130.4,99.5 M120.9,85.0 L124.7,83.7 L126.6,85.5 L129.2,87.3 L131.7,94.0 L128.5,95.5 L126.0,99.0 M127.2,107.5 L123.1,105.8 L115.8,107.7 L109.1,107.3 L108.5,105.3 L106.3,103.4 L104.4,102.4 L103.1,99.9 L100.9,95.7 M108.5,105.3 L109.1,110.1 L107.5,114.4 L109.3,118.8 L114.2,118.1 L117.4,119.3 L120.1,117.2 L122.2,115.8 L125.4,115.9 M120.1,117.2 L120.9,119.0 L119.1,121.8 M109.3,118.8 L107.8,120.0 L104.7,121.1 L103.1,121.1 L101.2,124.5 L99.9,126.6 M103.1,121.1 L101.8,116.3 L100.2,113.2 L98.6,113.2 L97.9,116.5 M107.5,114.4 L104.7,114.9 L101.8,116.3 M79.5,99.0 L85.0,99.0 L89.1,94.5 M86.5,100.4 L90.4,100.4 L96.7,100.9 L97.8,102.2 L98.6,106.3 L97.4,108.7 L95.0,113.2 L92.3,111.1 L90.4,108.2 L87.8,105.3 L86.4,102.4 L86.5,100.4 M96.2,97.0 L97.0,100.4 L97.8,102.2 M97.4,108.7 L100.2,113.2 M150.6,143.0 L152.1,141.8 L152.8,139.0 L155.6,139.8 L158.7,138.8 L161.9,139.6 L166.7,137.9 L171.0,137.9 L174.6,137.0 L177.8,138.3 L178.8,137.7 L177.2,133.9 L177.5,127.7 L178.8,126.4 L175.1,125.0 L174.5,120.4 L173.7,119.5 L171.8,118.1 L168.4,118.0 M163.5,109.3 L169.9,110.1 L175.6,112.3 L180.4,113.2 L183.9,116.3 L188.3,119.5 L190.8,116.5 M183.9,116.3 L184.5,119.0 L182.6,120.0 L179.4,119.0 L173.7,119.5 M179.4,119.0 L181.0,122.3 L184.2,125.0 L184.2,128.6 L184.2,130.2 M178.8,126.4 L181.0,129.5 L184.2,130.2 L187.0,127.9 L188.9,126.4 L191.7,131.9 M178.8,137.7 L180.7,142.6 L182.3,146.5 L181.0,151.1 L182.9,155.3 L188.0,159.4 L188.0,163.5 L190.4,167.5 M171.0,137.9 L167.6,140.9 L167.3,146.9 L166.5,149.4 L159.7,153.7 L153.5,158.2 L150.0,156.5 M159.7,153.7 L161.0,158.2 L160.3,159.4 L164.8,159.6 L169.9,163.1 L178.4,170.7 L184.2,171.1 L188.0,167.1 L188.9,167.6 M184.2,171.1 L188.0,173.4 L190.3,173.4 M160.3,159.4 L154.0,161.4 L155.6,167.5 L153.2,168.1 L151.1,170.7 L147.5,170.1 M149.5,156.5 L149.2,161.4 L147.5,169.3 M145.2,162.3 L147.3,169.5 M150.8,148.4 L152.1,148.6 L152.4,151.1 L150.3,153.6 L147.9,154.9 M116.3,161.2 L114.8,167.5 L115.8,170.7 L115.8,198.5 L115.8,205.9 L112.6,205.9 L112.6,207.7 M115.8,198.5 L153.6,198.5 M112.6,207.7 L87.2,193.0 L81.5,196.2 L74.5,192.8 L68.7,189.0 L66.5,183.2 L67.8,175.4 L66.5,166.7 L69.1,160.6 L72.9,157.3 L73.0,154.6 M87.2,193.0 L85.9,209.6 M74.5,192.8 L49.7,209.2 M66.5,166.7 L64.9,159.4 L60.8,155.3 L60.1,150.3 L62.5,148.6 L62.7,140.5 L63.8,138.5 M29.3,146.5 L30.9,151.1 L32.5,157.3 L27.1,159.0 L24.9,163.5 L20.4,167.5 L15.0,169.9 L8.7,172.7 L8.7,178.2 L20.9,187.1 L40.1,201.8 L46.8,209.6 M8.7,176.7 L-5.7,176.7 M8.7,178.2 L8.7,183.2 L-1.9,183.2 M20.9,187.1 L15.6,187.1 L16.6,209.6 M196.3,69.1 L191.2,72.4 L186.7,75.7 L185.1,81.0 L184.2,84.2 L186.1,86.3 L189.6,88.9 L190.8,92.9 L192.8,94.5" fill="none" stroke="#000" stroke-opacity="0.13" stroke-width="0.6" stroke-linejoin="round"/></g></defs>
<use href="#basemap" transform="translate(0,0.0)"/>
<g clip-path="none">
<line x1="51.1" y1="108.2" x2="98.9" y2="176.9" stroke="#222" stroke-width="0.75" stroke-opacity="0.8"/><polygon points="103.5,183.5 96.5,178.6 101.4,175.2" fill="#1a1a1a" fill-opacity="0.9"/><circle cx="51.1" cy="108.2" r="1.9" fill="#000"/>
<line x1="82.9" y1="67.9" x2="119.4" y2="158.5" stroke="#222" stroke-width="0.75" stroke-opacity="0.8"/><polygon points="122.4,165.9 116.6,159.6 122.2,157.4" fill="#1a1a1a" fill-opacity="0.9"/><circle cx="82.9" cy="67.9" r="1.9" fill="#000"/>
<line x1="96.4" y1="67.9" x2="116.9" y2="137.5" stroke="#222" stroke-width="0.75" stroke-opacity="0.8"/><polygon points="119.2,145.2 114.1,138.4 119.8,136.7" fill="#1a1a1a" fill-opacity="0.9"/><circle cx="96.4" cy="67.9" r="1.9" fill="#000"/>
<line x1="102.8" y1="65.9" x2="128.8" y2="154.2" stroke="#222" stroke-width="0.75" stroke-opacity="0.8"/><polygon points="131.1,161.9 126.0,155.1 131.7,153.4" fill="#1a1a1a" fill-opacity="0.9"/><circle cx="102.8" cy="65.9" r="1.9" fill="#000"/>
<line x1="100.4" y1="70.8" x2="113.2" y2="128.4" stroke="#222" stroke-width="0.75" stroke-opacity="0.8"/><polygon points="114.9,136.2 110.2,129.0 116.1,127.7" fill="#1a1a1a" fill-opacity="0.9"/><circle cx="100.4" cy="70.8" r="1.9" fill="#000"/>
<line x1="98.5" y1="91.4" x2="103.6" y2="123.8" stroke="#222" stroke-width="0.75" stroke-opacity="0.8"/><polygon points="104.9,131.7 100.7,124.3 106.6,123.3" fill="#1a1a1a" fill-opacity="0.9"/><circle cx="98.5" cy="91.4" r="1.9" fill="#000"/>
<line x1="100.4" y1="92.9" x2="108.3" y2="148.4" stroke="#222" stroke-width="0.75" stroke-opacity="0.8"/><polygon points="109.4,156.3 105.3,148.8 111.2,148.0" fill="#1a1a1a" fill-opacity="0.9"/><circle cx="100.4" cy="92.9" r="1.9" fill="#000"/>
<line x1="102.3" y1="94.1" x2="118.6" y2="126.9" stroke="#222" stroke-width="0.75" stroke-opacity="0.8"/><polygon points="122.1,134.1 115.9,128.3 121.2,125.6" fill="#1a1a1a" fill-opacity="0.9"/><circle cx="102.3" cy="94.1" r="1.9" fill="#000"/>
<line x1="115.9" y1="35.0" x2="121.6" y2="126.1" stroke="#222" stroke-width="0.75" stroke-opacity="0.8"/><polygon points="122.1,134.1 118.6,126.3 124.6,125.9" fill="#1a1a1a" fill-opacity="0.9"/><circle cx="115.9" cy="35.0" r="1.9" fill="#000"/>
<line x1="121.3" y1="33.1" x2="136.5" y2="153.2" stroke="#222" stroke-width="0.75" stroke-opacity="0.8"/><polygon points="137.5,161.1 133.5,153.5 139.5,152.8" fill="#1a1a1a" fill-opacity="0.9"/><circle cx="121.3" cy="33.1" r="1.9" fill="#000"/>
<line x1="124.4" y1="41.1" x2="137.0" y2="153.3" stroke="#222" stroke-width="0.75" stroke-opacity="0.8"/><polygon points="137.9,161.3 134.0,153.7 140.0,153.0" fill="#1a1a1a" fill-opacity="0.9"/><circle cx="124.4" cy="41.1" r="1.9" fill="#000"/>
<line x1="118.3" y1="30.4" x2="118.4" y2="26.4" stroke="#222" stroke-width="0.75" stroke-opacity="0.8"/><polygon points="118.7,18.4 121.4,26.5 115.4,26.3" fill="#1a1a1a" fill-opacity="0.9"/><circle cx="118.3" cy="30.4" r="1.9" fill="#000"/>
<line x1="114.5" y1="31.5" x2="115.6" y2="33.6" stroke="#222" stroke-width="0.75" stroke-opacity="0.8"/><polygon points="119.4,40.7 113.0,35.0 118.3,32.2" fill="#1a1a1a" fill-opacity="0.9"/>
<line x1="116.5" y1="30.5" x2="116.5" y2="30.6" stroke="#222" stroke-width="0.75" stroke-opacity="0.8"/><polygon points="117.5,38.5 113.5,30.9 119.5,30.2" fill="#1a1a1a" fill-opacity="0.9"/>
<line x1="88.6" y1="59.8" x2="89.3" y2="59.5" stroke="#222" stroke-width="0.75" stroke-opacity="0.8"/><polygon points="82.0,62.7 88.1,56.7 90.5,62.2" fill="#1a1a1a" fill-opacity="0.9"/><circle cx="88.6" cy="59.8" r="1.9" fill="#000"/>
</g>
<rect x="195.6" y="15.3" width="27.200000000000017" height="189.89999999999998" fill="#cccccc" stroke="#b0b0b0" stroke-width="0.6"/>
<rect x="5.0" y="15.3" width="190.6" height="189.89999999999998" fill="none" stroke="#858585" stroke-width="1.1"/>
<text transform="translate(203.60,110.25) rotate(90)" text-anchor="middle" font-family="Liberation Sans, Arial, Helvetica, sans-serif" font-size="13.2" fill="#1a1a1a">Adult</text>
<use href="#basemap" transform="translate(0,199.0)"/>
<g clip-path="none">
<line x1="167.1" y1="247.2" x2="163.8" y2="270.4" stroke="#222" stroke-width="0.75" stroke-opacity="0.8"/><polygon points="162.7,278.3 160.9,270.0 166.8,270.8" fill="#1a1a1a" fill-opacity="0.9"/><circle cx="167.1" cy="247.2" r="1.9" fill="#000"/>
<line x1="168.8" y1="265.0" x2="161.1" y2="278.5" stroke="#222" stroke-width="0.75" stroke-opacity="0.8"/><polygon points="157.1,285.4 158.5,277.0 163.7,280.0" fill="#1a1a1a" fill-opacity="0.9"/><circle cx="168.8" cy="265.0" r="1.9" fill="#000"/>
<line x1="148.5" y1="285.6" x2="146.3" y2="294.1" stroke="#222" stroke-width="0.75" stroke-opacity="0.8"/><polygon points="144.2,301.8 143.4,293.3 149.2,294.8" fill="#1a1a1a" fill-opacity="0.9"/><circle cx="148.5" cy="285.6" r="1.9" fill="#000"/>
<line x1="45.7" y1="310.7" x2="41.1" y2="309.9" stroke="#222" stroke-width="0.75" stroke-opacity="0.8"/><polygon points="33.2,308.6 41.6,307.0 40.6,312.9" fill="#1a1a1a" fill-opacity="0.9"/><circle cx="45.7" cy="310.7" r="1.9" fill="#000"/>
<line x1="45.7" y1="310.7" x2="41.6" y2="310.9" stroke="#222" stroke-width="0.75" stroke-opacity="0.8"/><polygon points="33.6,311.4 41.4,307.9 41.8,313.9" fill="#1a1a1a" fill-opacity="0.9"/><circle cx="45.7" cy="310.7" r="1.9" fill="#000"/>
<line x1="128.4" y1="232.7" x2="124.4" y2="230.6" stroke="#222" stroke-width="0.75" stroke-opacity="0.8"/><polygon points="117.3,226.9 125.8,227.9 123.0,233.3" fill="#1a1a1a" fill-opacity="0.9"/><circle cx="128.4" cy="232.7" r="1.9" fill="#000"/>
<line x1="113.1" y1="241.2" x2="89.6" y2="275.3" stroke="#222" stroke-width="0.75" stroke-opacity="0.8"/><polygon points="85.1,281.9 87.2,273.6 92.1,277.0" fill="#1a1a1a" fill-opacity="0.9"/><circle cx="113.1" cy="241.2" r="1.9" fill="#000"/>
<line x1="113.5" y1="241.5" x2="108.1" y2="269.4" stroke="#222" stroke-width="0.75" stroke-opacity="0.8"/><polygon points="106.6,277.3 105.2,268.9 111.1,270.0" fill="#1a1a1a" fill-opacity="0.9"/><circle cx="113.5" cy="241.5" r="1.9" fill="#000"/>
<line x1="115.2" y1="232.7" x2="113.3" y2="324.4" stroke="#222" stroke-width="0.75" stroke-opacity="0.8"/><polygon points="113.1,332.4 110.3,324.3 116.3,324.5" fill="#1a1a1a" fill-opacity="0.9"/><circle cx="115.2" cy="232.7" r="1.9" fill="#000"/>
<line x1="116.0" y1="241.8" x2="115.9" y2="335.3" stroke="#222" stroke-width="0.75" stroke-opacity="0.8"/><polygon points="115.9,343.3 112.9,335.3 118.9,335.3" fill="#1a1a1a" fill-opacity="0.9"/><circle cx="116.0" cy="241.8" r="1.9" fill="#000"/>
<line x1="118.8" y1="229.3" x2="118.8" y2="335.5" stroke="#222" stroke-width="0.75" stroke-opacity="0.8"/><polygon points="118.8,343.5 115.8,335.5 121.8,335.5" fill="#1a1a1a" fill-opacity="0.9"/><circle cx="118.8" cy="229.3" r="1.9" fill="#000"/>
<line x1="121.3" y1="231.8" x2="121.7" y2="299.3" stroke="#222" stroke-width="0.75" stroke-opacity="0.8"/><polygon points="121.7,307.3 118.7,299.3 124.7,299.3" fill="#1a1a1a" fill-opacity="0.9"/><circle cx="121.3" cy="231.8" r="1.9" fill="#000"/>
<line x1="121.6" y1="240.1" x2="117.6" y2="313.5" stroke="#222" stroke-width="0.75" stroke-opacity="0.8"/><polygon points="117.2,321.5 114.6,313.3 120.6,313.7" fill="#1a1a1a" fill-opacity="0.9"/><circle cx="121.6" cy="240.1" r="1.9" fill="#000"/>
<line x1="123.9" y1="237.5" x2="137.4" y2="309.6" stroke="#222" stroke-width="0.75" stroke-opacity="0.8"/><polygon points="138.9,317.5 134.5,310.2 140.4,309.1" fill="#1a1a1a" fill-opacity="0.9"/><circle cx="123.9" cy="237.5" r="1.9" fill="#000"/>
<line x1="118.2" y1="256.5" x2="138.6" y2="320.1" stroke="#222" stroke-width="0.75" stroke-opacity="0.8"/><polygon points="141.0,327.7 135.7,321.0 141.4,319.2" fill="#1a1a1a" fill-opacity="0.9"/><circle cx="118.2" cy="256.5" r="1.9" fill="#000"/>
<line x1="122.0" y1="238.5" x2="140.1" y2="335.4" stroke="#222" stroke-width="0.75" stroke-opacity="0.8"/><polygon points="141.6,343.3 137.2,336.0 143.1,334.9" fill="#1a1a1a" fill-opacity="0.9"/><circle cx="122.0" cy="238.5" r="1.9" fill="#000"/>
<line x1="106.0" y1="284.6" x2="118.8" y2="293.7" stroke="#222" stroke-width="0.75" stroke-opacity="0.8"/><polygon points="125.3,298.4 117.0,296.2 120.5,291.3" fill="#1a1a1a" fill-opacity="0.9"/><circle cx="106.0" cy="284.6" r="1.9" fill="#000"/>
<line x1="99.9" y1="295.0" x2="136.0" y2="337.5" stroke="#222" stroke-width="0.75" stroke-opacity="0.8"/><polygon points="141.2,343.6 133.7,339.4 138.3,335.6" fill="#1a1a1a" fill-opacity="0.9"/><circle cx="99.9" cy="295.0" r="1.9" fill="#000"/>
<line x1="99.9" y1="288.4" x2="111.2" y2="350.7" stroke="#222" stroke-width="0.75" stroke-opacity="0.8"/><polygon points="112.6,358.6 108.2,351.3 114.1,350.2" fill="#1a1a1a" fill-opacity="0.9"/><circle cx="99.9" cy="288.4" r="1.9" fill="#000"/>
<line x1="100.8" y1="289.2" x2="111.8" y2="350.9" stroke="#222" stroke-width="0.75" stroke-opacity="0.8"/><polygon points="113.2,358.8 108.8,351.5 114.8,350.4" fill="#1a1a1a" fill-opacity="0.9"/><circle cx="100.8" cy="289.2" r="1.9" fill="#000"/>
<line x1="97.9" y1="290.9" x2="107.4" y2="314.8" stroke="#222" stroke-width="0.75" stroke-opacity="0.8"/><polygon points="110.4,322.2 104.6,315.9 110.2,313.7" fill="#1a1a1a" fill-opacity="0.9"/><circle cx="97.9" cy="290.9" r="1.9" fill="#000"/>
<line x1="99.9" y1="295.0" x2="106.6" y2="305.3" stroke="#222" stroke-width="0.75" stroke-opacity="0.8"/><polygon points="111.0,312.0 104.1,306.9 109.1,303.7" fill="#1a1a1a" fill-opacity="0.9"/><circle cx="99.9" cy="295.0" r="1.9" fill="#000"/>
<line x1="104.4" y1="285.4" x2="115.7" y2="335.6" stroke="#222" stroke-width="0.75" stroke-opacity="0.8"/><polygon points="117.5,343.4 112.8,336.3 118.7,334.9" fill="#1a1a1a" fill-opacity="0.9"/><circle cx="104.4" cy="285.4" r="1.9" fill="#000"/>
<line x1="116.5" y1="307.3" x2="117.0" y2="313.5" stroke="#222" stroke-width="0.75" stroke-opacity="0.8"/><polygon points="117.6,321.5 114.0,313.8 120.0,313.3" fill="#1a1a1a" fill-opacity="0.9"/><circle cx="116.5" cy="307.3" r="1.9" fill="#000"/>
<line x1="102.0" y1="286.8" x2="111.2" y2="324.6" stroke="#222" stroke-width="0.75" stroke-opacity="0.8"/><polygon points="113.1,332.4 108.3,325.3 114.1,323.9" fill="#1a1a1a" fill-opacity="0.9"/><circle cx="102.0" cy="286.8" r="1.9" fill="#000"/>
<line x1="103.0" y1="286.0" x2="115.3" y2="298.2" stroke="#222" stroke-width="0.75" stroke-opacity="0.8"/><polygon points="121.0,303.8 113.2,300.3 117.4,296.0" fill="#1a1a1a" fill-opacity="0.9"/><circle cx="103.0" cy="286.0" r="1.9" fill="#000"/>
</g>
<rect x="195.6" y="214.3" width="27.200000000000017" height="189.89999999999998" fill="#cccccc" stroke="#b0b0b0" stroke-width="0.6"/>
<rect x="5.0" y="214.3" width="190.6" height="189.89999999999998" fill="none" stroke="#858585" stroke-width="1.1"/>
<text transform="translate(203.60,309.25) rotate(90)" text-anchor="middle" font-family="Liberation Sans, Arial, Helvetica, sans-serif" font-size="13.2" fill="#1a1a1a">Juvenile</text>
<line x1="0.8" x2="4.5" y1="75.3" y2="75.3" stroke="#8a8a8a" stroke-width="0.7"/>
<line x1="0.8" x2="4.5" y1="125.0" y2="125.0" stroke="#8a8a8a" stroke-width="0.7"/>
<line x1="0.8" x2="4.5" y1="167.2" y2="167.2" stroke="#8a8a8a" stroke-width="0.7"/>
<line x1="0.8" x2="4.5" y1="15.1" y2="15.1" stroke="#cfcfcf" stroke-width="0.7"/>
<line x1="0.8" x2="4.5" y1="205.9" y2="205.9" stroke="#cfcfcf" stroke-width="0.7"/>
<line x1="0.8" x2="4.5" y1="274.3" y2="274.3" stroke="#8a8a8a" stroke-width="0.7"/>
<line x1="0.8" x2="4.5" y1="324.0" y2="324.0" stroke="#8a8a8a" stroke-width="0.7"/>
<line x1="0.8" x2="4.5" y1="366.2" y2="366.2" stroke="#8a8a8a" stroke-width="0.7"/>
<line x1="0.8" x2="4.5" y1="214.1" y2="214.1" stroke="#cfcfcf" stroke-width="0.7"/>
<line x1="36.3" x2="36.3" y1="404.6" y2="408" stroke="#8a8a8a" stroke-width="0.7"/>
<line x1="99.9" x2="99.9" y1="404.6" y2="408" stroke="#8a8a8a" stroke-width="0.7"/>
<line x1="163.5" x2="163.5" y1="404.6" y2="408" stroke="#8a8a8a" stroke-width="0.7"/>
<text x="124.6" y="28.9" text-anchor="middle" font-family="Liberation Sans, Arial, Helvetica, sans-serif" font-size="11.5" font-weight="bold" fill="#000">!</text>
<text x="94" y="58.1" text-anchor="middle" font-family="Liberation Sans, Arial, Helvetica, sans-serif" font-size="11.5" font-weight="bold" fill="#000">!</text>
</svg></body></html>
